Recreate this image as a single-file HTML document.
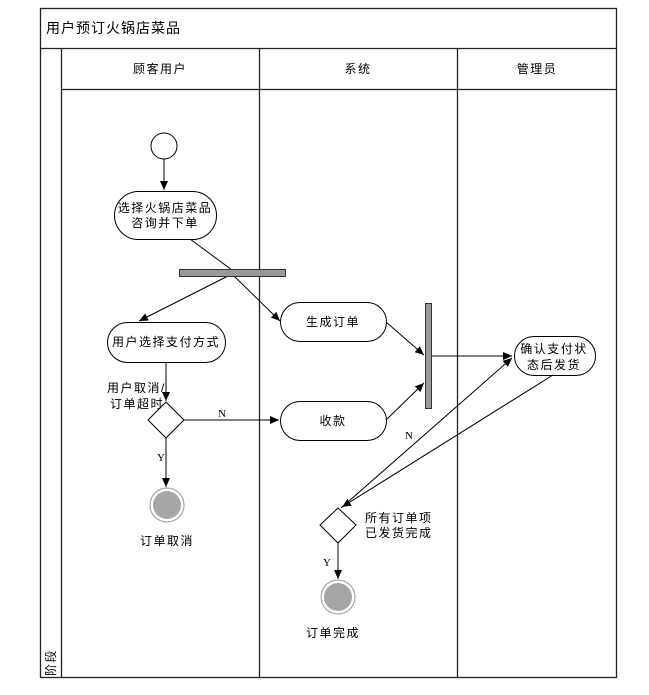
<!DOCTYPE html>
<html><head><meta charset="utf-8"><style>
html,body{margin:0;padding:0;background:#fff;}
svg text{font-family:"Liberation Sans","Noto Sans CJK SC",sans-serif;font-size:12px;fill:#000;letter-spacing:1.5px;}
.s{font-family:"Liberation Serif",serif;font-size:11px;letter-spacing:0;}
</style></head><body>
<svg width="649" height="690" viewBox="0 0 649 690" xmlns="http://www.w3.org/2000/svg">
<defs><marker id="a" markerWidth="10" markerHeight="10" refX="9" refY="5" orient="auto" markerUnits="userSpaceOnUse"><path d="M0,1 L9,5 L0,9 Z" fill="#000"/></marker></defs>
<g fill="none" stroke="#222" stroke-width="1.3">
<rect x="40.5" y="8.5" width="576" height="669"/>
<line x1="40" y1="48.5" x2="617" y2="48.5"/>
<line x1="61.5" y1="48" x2="61.5" y2="677"/>
<line x1="61" y1="89.5" x2="617" y2="89.5"/>
<line x1="259.5" y1="48" x2="259.5" y2="677"/>
<line x1="457.5" y1="48" x2="457.5" y2="677"/>
</g>
<text x="46" y="33" style="font-size:14px;letter-spacing:1px">用户预订火锅店菜品</text>
<text x="160" y="73" text-anchor="middle">顾客用户</text>
<text x="358" y="73" text-anchor="middle">系统</text>
<text x="537" y="73" text-anchor="middle">管理员</text>
<text transform="translate(55,676) rotate(-90)">阶段</text>
<g fill="none" stroke="#000" stroke-width="1">
<circle cx="164" cy="146" r="13"/>
<line x1="164" y1="159" x2="164" y2="190" marker-end="url(#a)"/>
<rect x="114.5" y="191.5" width="102" height="48" rx="24"/>
<line x1="190" y1="239" x2="232" y2="270"/>
<line x1="232" y1="274" x2="139" y2="321" marker-end="url(#a)"/>
<line x1="232" y1="274" x2="280" y2="321" marker-end="url(#a)"/>
<rect x="107.5" y="322.5" width="118" height="40" rx="20"/>
<line x1="166" y1="362" x2="166" y2="401" marker-end="url(#a)"/>
<polygon points="166,402 184,420 166,438 148,420"/>
<line x1="184" y1="420" x2="279" y2="420" marker-end="url(#a)"/>
<line x1="166" y1="438" x2="166" y2="487" marker-end="url(#a)"/>
<circle cx="167" cy="505" r="17" stroke="#999"/>
<rect x="280.5" y="302.5" width="106" height="39" rx="19.5"/>
<rect x="280.5" y="401.5" width="106" height="39" rx="19.5"/>
<line x1="386" y1="322" x2="424" y2="355" marker-end="url(#a)"/>
<line x1="386" y1="420" x2="424" y2="383" marker-end="url(#a)"/>
<line x1="432" y1="356" x2="512" y2="356" marker-end="url(#a)"/>
<rect x="514.5" y="336.5" width="81" height="39" rx="19.5"/>
<line x1="553" y1="375" x2="342" y2="507" marker-end="url(#a)"/>
<line x1="341" y1="508" x2="512" y2="358" marker-end="url(#a)"/>
<polygon points="338,508 356,525 338,543 320,525"/>
<line x1="338" y1="543" x2="338" y2="579" marker-end="url(#a)"/>
<circle cx="338" cy="597" r="17" stroke="#999"/>
</g>
<rect x="179.5" y="269.5" width="106" height="7" fill="#999" stroke="#333"/>
<rect x="425.5" y="303.5" width="6" height="105" fill="#999" stroke="#333"/>
<circle cx="167" cy="505" r="14" fill="#a6a6a6"/>
<circle cx="338" cy="597" r="14" fill="#a6a6a6"/>
<text x="165" y="212" text-anchor="middle">选择火锅店菜品</text>
<text x="165" y="227" text-anchor="middle">咨询并下单</text>
<text x="166" y="346" text-anchor="middle">用户选择支付方式</text>
<text x="107" y="392">用户取消/</text>
<text x="110" y="408">订单超时</text>
<text x="218" y="417" class="s">N</text>
<text x="157" y="461" class="s">Y</text>
<text x="167" y="545" text-anchor="middle">订单取消</text>
<text x="333" y="326" text-anchor="middle">生成订单</text>
<text x="333" y="425" text-anchor="middle">收款</text>
<text x="554" y="353" text-anchor="middle">确认支付状</text>
<text x="554" y="369" text-anchor="middle">态后发货</text>
<text x="405" y="439" class="s">N</text>
<text x="365" y="522">所有订单项</text>
<text x="365" y="537">已发货完成</text>
<text x="323" y="566" class="s">Y</text>
<text x="333" y="637" text-anchor="middle">订单完成</text>
</svg>
</body></html>
